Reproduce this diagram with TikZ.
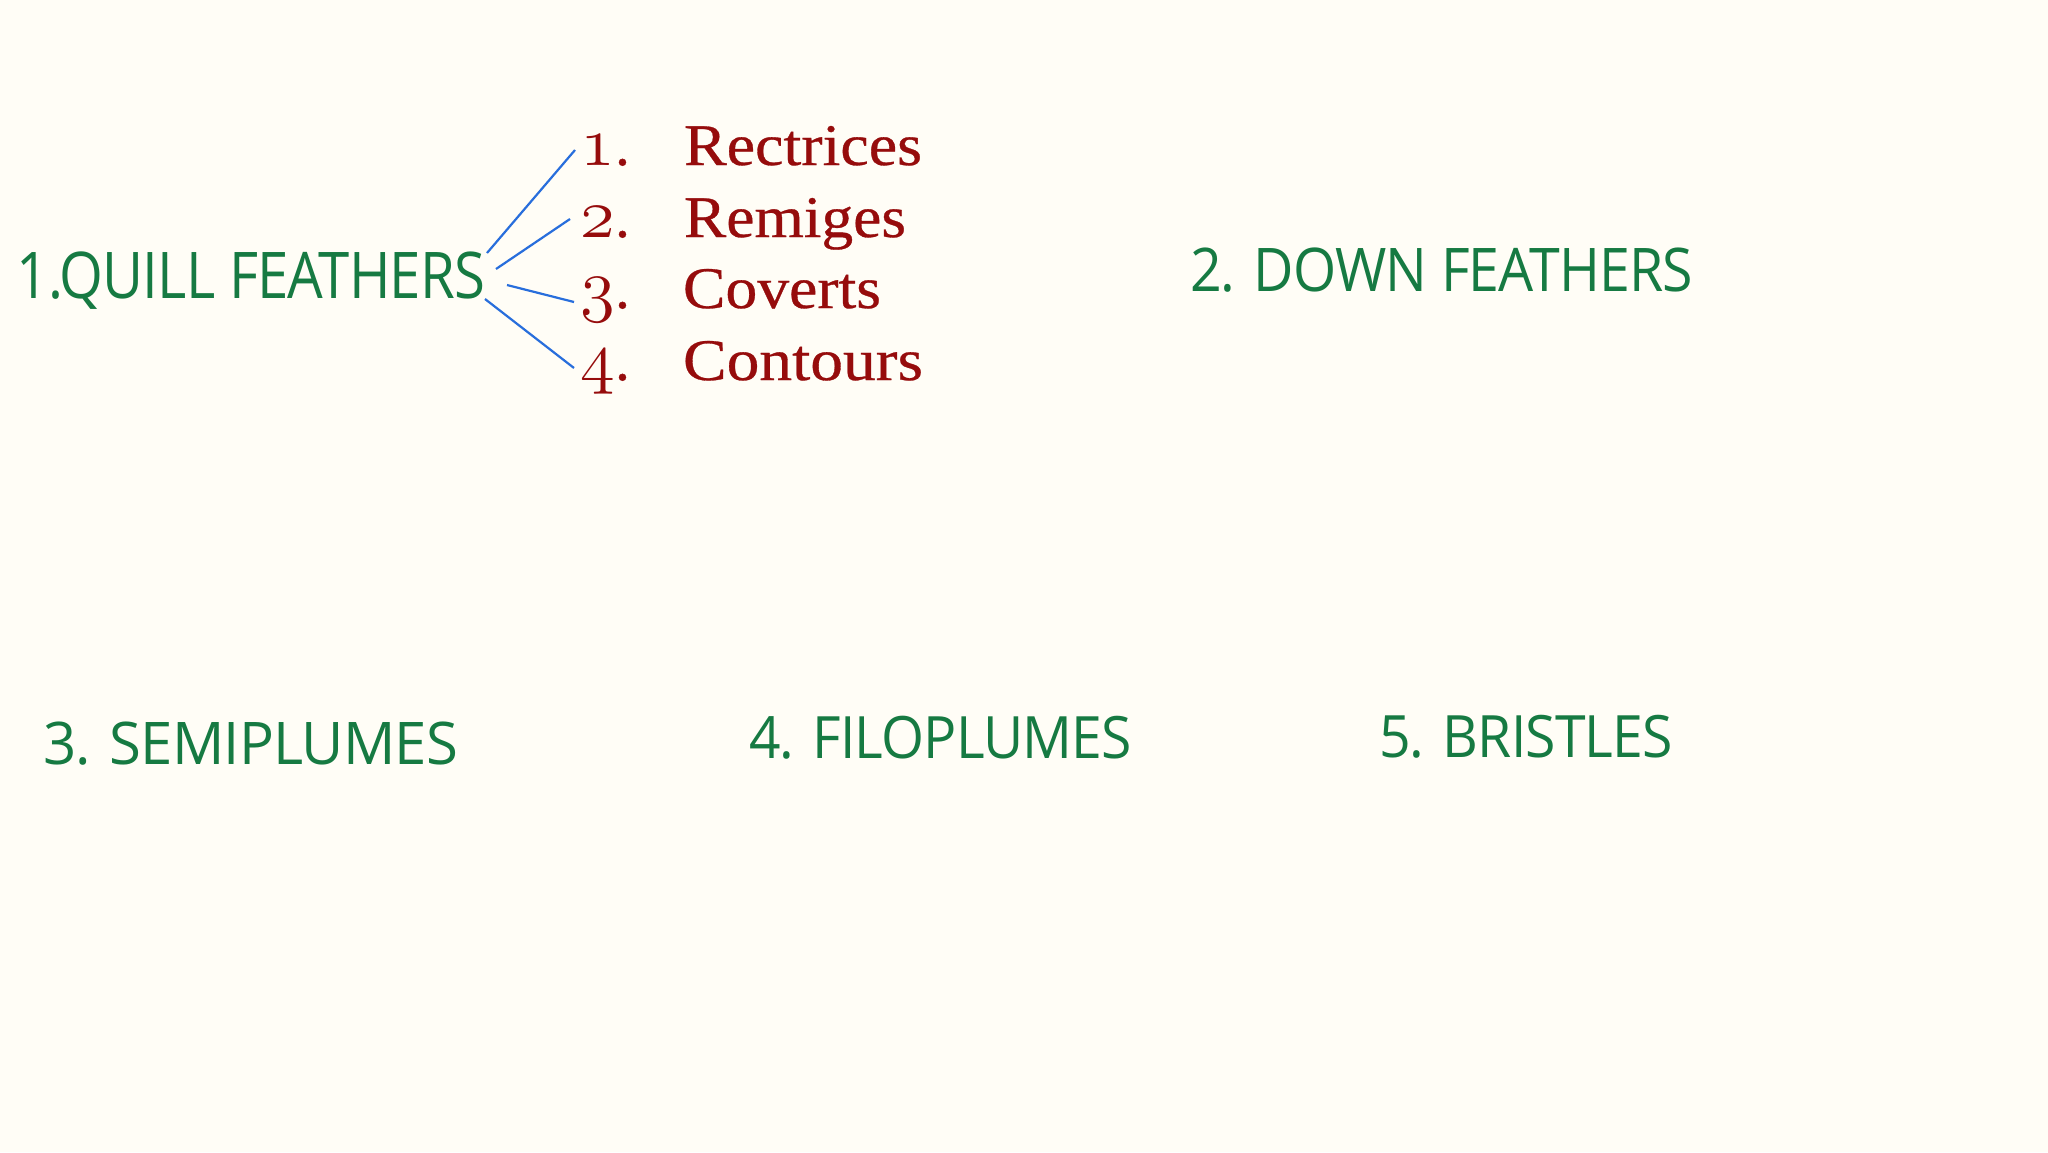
\documentclass[tikz,border=0pt]{standalone}
\usepackage{fontspec}
\usepackage{graphicx}
\newfontfamily\gsans{Open Sans}[LetterSpace=-1.5]
\newfontfamily\rserif{Liberation Serif}[FakeBold=0.5]
\definecolor{bgcol}{RGB}{255,253,246}
\definecolor{gcol}{RGB}{22,122,66}
\definecolor{rcol}{RGB}{150,12,12}
\definecolor{bcol}{RGB}{40,110,220}
\newcommand{\fitw}[2]{\resizebox{#1}{\height}{#2}}
\newcommand{\osn}[1]{{\fontsize{24.88}{25}\selectfont\scalebox{1.42}{$\mathnormal{#1}$}}}
\tikzset{
  gtext/.style={inner sep=0pt, outer sep=0pt, text=gcol, anchor=base west},
  rword/.style={inner sep=0pt, outer sep=0pt, text=rcol, anchor=base west,
    font=\rserif\fontsize{29.5}{30}\selectfont},
  rnum/.style={inner sep=0pt, outer sep=0pt, text=rcol, anchor=base east,
    font=\rserif\fontsize{30}{30}\selectfont},
  branch/.style={draw=bcol, line width=1.1pt}
}
\begin{document}
\begin{tikzpicture}[x=0.5pt, y=-0.5pt]
\useasboundingbox[fill=bgcol] (0,0) rectangle (2048,1152);

% main categories
\node[gtext, font=\gsans\fontsize{32.2}{33}\selectfont] (quill) at (17,298) {\fitw{234pt}{1.QUILL FEATHERS}};
\node[gtext, font=\gsans\fontsize{30.1}{31}\selectfont] (down) at (1190,291) {\fitw{251.5pt}{2. DOWN FEATHERS}};
\node[gtext, font=\gsans\fontsize{29.4}{30}\selectfont] (semi) at (43,764) {\fitw{207.5pt}{3. SEMIPLUMES}};
\node[gtext, font=\gsans\fontsize{29.2}{30}\selectfont] (filo) at (749,758) {\fitw{191.5pt}{4. FILOPLUMES}};
\node[gtext, font=\gsans\fontsize{29.2}{30}\selectfont] (bris) at (1379,757) {\fitw{147pt}{5. BRISTLES}};

% sub list
\node[rnum] (n1) at (630,165) {\osn{1}.};
\node[rnum] (n2) at (630,237) {\osn{2}.};
\node[rnum] (n3) at (630,308) {\osn{3}.};
\node[rnum] (n4) at (630,380) {\osn{4}.};
\node[rword] (w1) at (684,165) {\fitw{119pt}{Rectrices}};
\node[rword] (w2) at (684,237) {\fitw{111pt}{Remiges}};
\node[rword] (w3) at (683,308) {\fitw{99pt}{Coverts}};
\node[rword] (w4) at (683,380) {\fitw{120pt}{Contours}};

% connectors
\coordinate (s1) at (487,253);
\coordinate (s2) at (496,269);
\coordinate (s3) at (507,285);
\coordinate (s4) at (485,299);
\coordinate (e1) at (575,150);
\coordinate (e2) at (570,219);
\coordinate (e3) at (574,302);
\coordinate (e4) at (574,368);
\draw[branch] (s1) -- (e1);
\draw[branch] (s2) -- (e2);
\draw[branch] (s3) -- (e3);
\draw[branch] (s4) -- (e4);
\end{tikzpicture}
\end{document}
